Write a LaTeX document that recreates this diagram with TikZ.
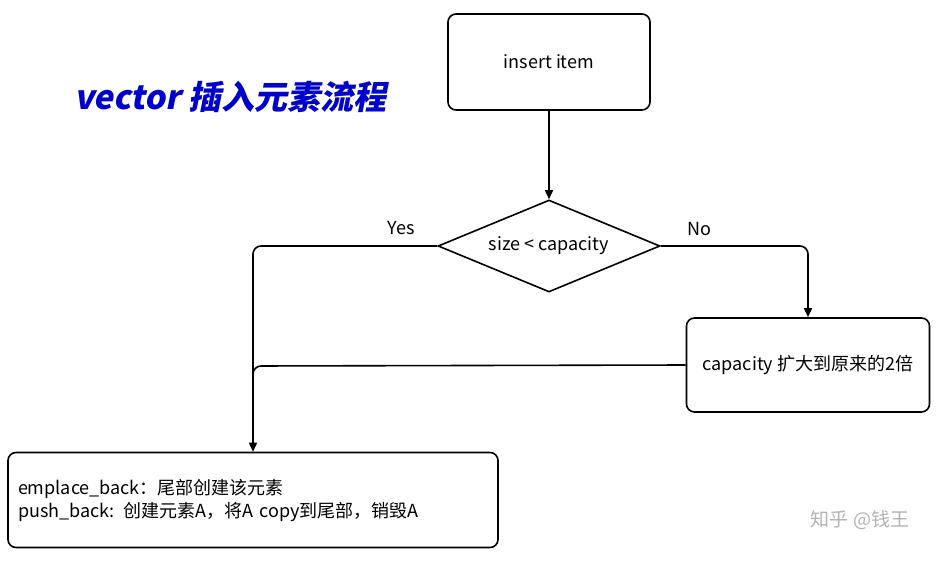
\documentclass[tikz,border=0pt]{standalone}
\usepackage{fontspec}
\setmainfont{Noto Sans CJK SC}
\newfontfamily\titlefont[FakeSlant=0.2]{Noto Sans CJK SC}
\usetikzlibrary{shapes.geometric,arrows.meta}
\begin{document}
\begin{tikzpicture}[x=1pt,y=-1pt,line width=1.6pt,
  box/.style={draw,rounded corners=8pt,font=\fontsize{18}{23}\selectfont},
  conn/.style={rounded corners=8pt},
  arr/.style={conn,-{Triangle[length=9pt,width=8pt]}},
  lbl/.style={font=\fontsize{18}{20}\selectfont}]
\useasboundingbox (0,0) rectangle (942,560);
\node[box,minimum width=202pt,minimum height=96pt] (ins) at (549,62) {insert item};
\node[draw,diamond,aspect=2.4,minimum width=222pt,minimum height=92pt,inner sep=0pt,font=\fontsize{18}{20}\selectfont] (dec) at (549,246) {size < capacity};
\node[box,minimum width=243pt,minimum height=94pt,inner sep=1pt] (cap) at (808,365) {capacity 扩大到原来的2倍};
\node[box,minimum width=490pt,minimum height=95pt,align=left,text width=470pt] (res) at (253,500) {emplace\_back：尾部创建该元素\\push\_back: 创建元素A，将A copy到尾部，销毁A};
\node[font=\titlefont\fontsize{33}{36}\selectfont\bfseries,text=blue!80!black,anchor=west] (title) at (70,97) {vector 插入元素流程};
\node[lbl] (yes) at (401,228) {Yes};
\node[lbl] (no) at (699,229) {No};
\node[font=\fontsize{19}{22}\selectfont,text=gray!60] (wm) at (860,520) {知乎 @钱王};
\coordinate (j) at (253,366);
\coordinate (jd) at (253,400);
\draw[arr] (ins) -- (dec);
\draw[arr] (dec.west) -| (res.north);
\draw[arr] (dec.east) -| (cap.north);
\draw[conn] (cap.west) -- (j) -- (jd);
\end{tikzpicture}
\end{document}
